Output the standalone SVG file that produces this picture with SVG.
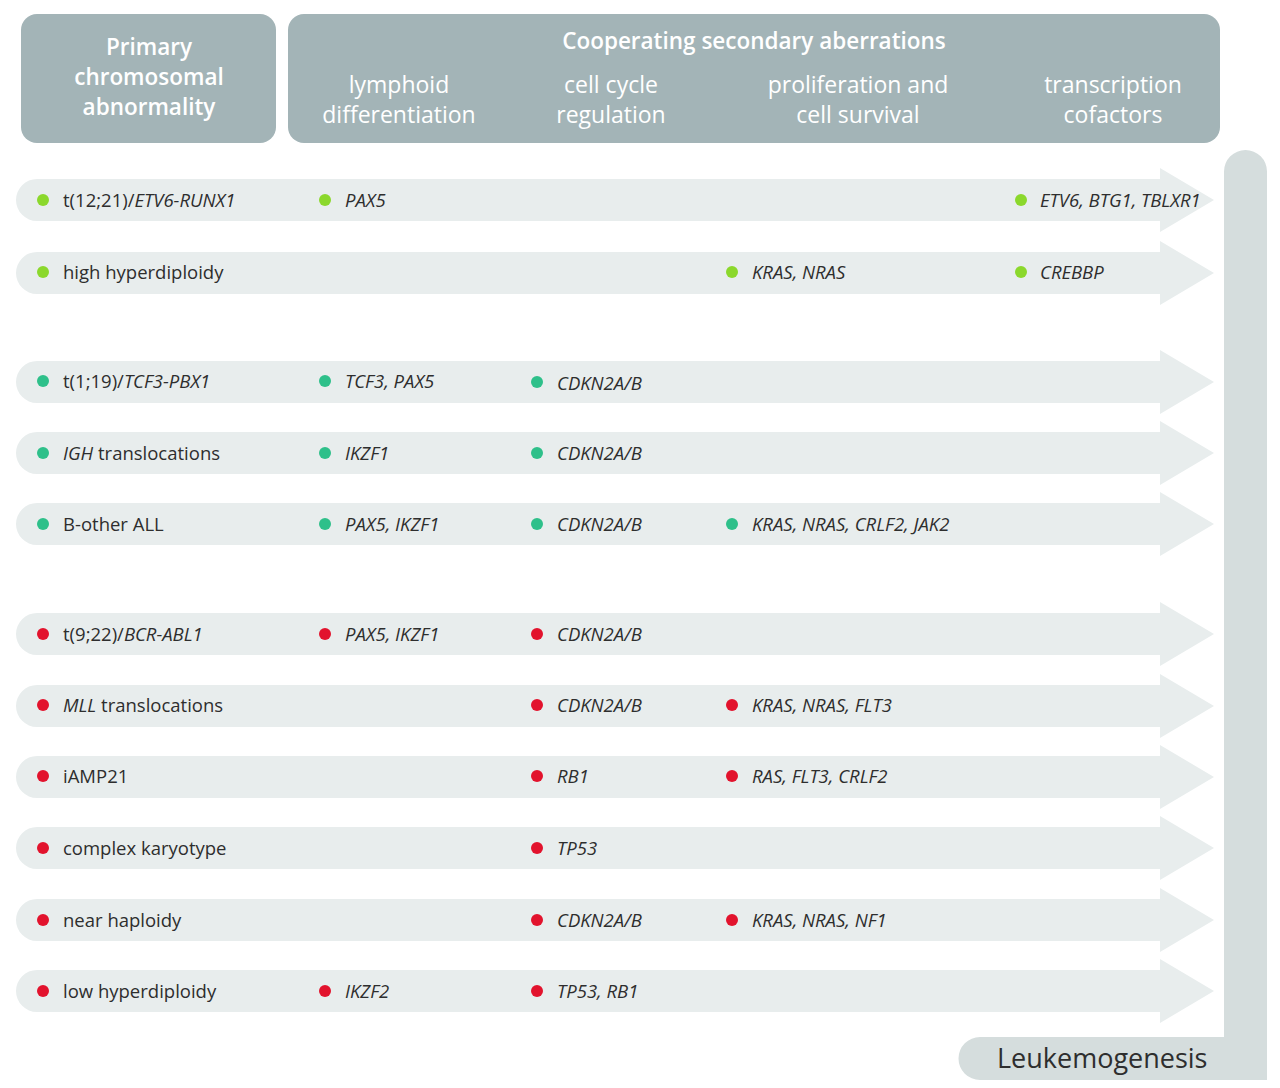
<svg xmlns="http://www.w3.org/2000/svg" width="1280" height="1088" viewBox="0 0 1280 1088">
<style>
.hdr{fill:#a3b4b7}
.arr{fill:#e8eded}
.lk{fill:#d5dddd}
.ht{font-family:"Open Sans","Noto Sans",sans-serif;fill:#ffffff;text-anchor:middle}
.hb{font-weight:600;font-size:22.5px}
.hs{font-size:23px}
.t{font-family:"Open Sans","Noto Sans",sans-serif;font-size:18.5px;fill:#2e2e2e}
.i{font-style:italic}
.g{fill:#8bd82c}
.m{fill:#2ec08a}
.r{fill:#e2132d}
.lt{font-family:"Open Sans","Noto Sans",sans-serif;font-size:27px;fill:#2e2e2e}
</style>
<defs>
<path id="arrow" d="M37 -21 H1160 V-32 L1214 0 L1160 32 V21 H37 A21 21 0 0 1 37 -21 Z"/>
</defs>
<rect width="1280" height="1088" fill="#ffffff"/>

<g id="header-primary">
<rect class="hdr" x="21" y="14" width="255" height="129" rx="16"/>
<text class="ht hb" x="149" y="55">Primary</text>
<text class="ht hb" x="149" y="85">chromosomal</text>
<text class="ht hb" x="149" y="115">abnormality</text>
</g>
<g id="header-secondary">
<rect class="hdr" x="288" y="14" width="932" height="129" rx="16"/>
<text class="ht hb" x="754" y="49">Cooperating secondary aberrations</text>
<text class="ht hs" x="399" y="93">lymphoid</text>
<text class="ht hs" x="399" y="123">differentiation</text>
<text class="ht hs" x="611" y="93">cell cycle</text>
<text class="ht hs" x="611" y="123">regulation</text>
<text class="ht hs" x="858" y="93">proliferation and</text>
<text class="ht hs" x="858" y="123">cell survival</text>
<text class="ht hs" x="1113" y="93">transcription</text>
<text class="ht hs" x="1113" y="123">cofactors</text>
</g>

<g id="leukemogenesis">
<path class="lk" d="M1224 171.5 A21.5 21.5 0 0 1 1267 171.5 V1080 H980 A21.5 21.5 0 0 1 980 1037 H1224 Z"/>
<text class="lt" x="997" y="1068">Leukemogenesis</text>
</g>

<g id="connectors">
<use href="#arrow" class="arr" y="200"/>
<use href="#arrow" class="arr" y="273"/>
<use href="#arrow" class="arr" y="382"/>
<use href="#arrow" class="arr" y="453"/>
<use href="#arrow" class="arr" y="524"/>
<use href="#arrow" class="arr" y="634"/>
<use href="#arrow" class="arr" y="706"/>
<use href="#arrow" class="arr" y="777"/>
<use href="#arrow" class="arr" y="848"/>
<use href="#arrow" class="arr" y="920"/>
<use href="#arrow" class="arr" y="991"/>
</g>

<g id="row-t1221">
<circle class="g" cx="43" cy="200" r="6"/><text class="t" x="63" y="207">t(12;21)/<tspan class="i">ETV6-RUNX1</tspan></text>
<circle class="g" cx="325" cy="200" r="6"/><text class="t i" x="345" y="207">PAX5</text>
<circle class="g" cx="1021" cy="200" r="6"/><text class="t i" x="1040" y="207">ETV6, BTG1, TBLXR1</text>
</g>
<g id="row-highhyper">
<circle class="g" cx="43" cy="272" r="6"/><text class="t" x="63" y="279">high hyperdiploidy</text>
<circle class="g" cx="732" cy="272" r="6"/><text class="t i" x="752" y="279">KRAS, NRAS</text>
<circle class="g" cx="1021" cy="272" r="6"/><text class="t i" x="1040" y="279">CREBBP</text>
</g>
<g id="row-t119">
<circle class="m" cx="43" cy="381" r="6"/><text class="t" x="63" y="388">t(1;19)/<tspan class="i">TCF3-PBX1</tspan></text>
<circle class="m" cx="325" cy="381" r="6"/><text class="t i" x="345" y="388">TCF3, PAX5</text>
<circle class="m" cx="537" cy="382" r="6"/><text class="t i" x="557" y="390">CDKN2A/B</text>
</g>
<g id="row-igh">
<circle class="m" cx="43" cy="453" r="6"/><text class="t" x="63" y="460"><tspan class="i">IGH</tspan> translocations</text>
<circle class="m" cx="325" cy="453" r="6"/><text class="t i" x="345" y="460">IKZF1</text>
<circle class="m" cx="537" cy="453" r="6"/><text class="t i" x="557" y="460">CDKN2A/B</text>
</g>
<g id="row-bother">
<circle class="m" cx="43" cy="524" r="6"/><text class="t" x="63" y="531">B-other ALL</text>
<circle class="m" cx="325" cy="524" r="6"/><text class="t i" x="345" y="531">PAX5, IKZF1</text>
<circle class="m" cx="537" cy="524" r="6"/><text class="t i" x="557" y="531">CDKN2A/B</text>
<circle class="m" cx="732" cy="524" r="6"/><text class="t i" x="752" y="531">KRAS, NRAS, CRLF2, JAK2</text>
</g>
<g id="row-t922">
<circle class="r" cx="43" cy="634" r="6"/><text class="t" x="63" y="641">t(9;22)/<tspan class="i">BCR-ABL1</tspan></text>
<circle class="r" cx="325" cy="634" r="6"/><text class="t i" x="345" y="641">PAX5, IKZF1</text>
<circle class="r" cx="537" cy="634" r="6"/><text class="t i" x="557" y="641">CDKN2A/B</text>
</g>
<g id="row-mll">
<circle class="r" cx="43" cy="705" r="6"/><text class="t" x="63" y="712"><tspan class="i">MLL</tspan> translocations</text>
<circle class="r" cx="537" cy="705" r="6"/><text class="t i" x="557" y="712">CDKN2A/B</text>
<circle class="r" cx="732" cy="705" r="6"/><text class="t i" x="752" y="712">KRAS, NRAS, FLT3</text>
</g>
<g id="row-iamp21">
<circle class="r" cx="43" cy="776" r="6"/><text class="t" x="63" y="783">iAMP21</text>
<circle class="r" cx="537" cy="776" r="6"/><text class="t i" x="557" y="783">RB1</text>
<circle class="r" cx="732" cy="776" r="6"/><text class="t i" x="752" y="783">RAS, FLT3, CRLF2</text>
</g>
<g id="row-complex">
<circle class="r" cx="43" cy="848" r="6"/><text class="t" x="63" y="855">complex karyotype</text>
<circle class="r" cx="537" cy="848" r="6"/><text class="t i" x="557" y="855">TP53</text>
</g>
<g id="row-nearhaploid">
<circle class="r" cx="43" cy="920" r="6"/><text class="t" x="63" y="927">near haploidy</text>
<circle class="r" cx="537" cy="920" r="6"/><text class="t i" x="557" y="927">CDKN2A/B</text>
<circle class="r" cx="732" cy="920" r="6"/><text class="t i" x="752" y="927">KRAS, NRAS, NF1</text>
</g>
<g id="row-lowhyper">
<circle class="r" cx="43" cy="991" r="6"/><text class="t" x="63" y="998">low hyperdiploidy</text>
<circle class="r" cx="325" cy="991" r="6"/><text class="t i" x="345" y="998">IKZF2</text>
<circle class="r" cx="537" cy="991" r="6"/><text class="t i" x="557" y="998">TP53, RB1</text>
</g>
</svg>
